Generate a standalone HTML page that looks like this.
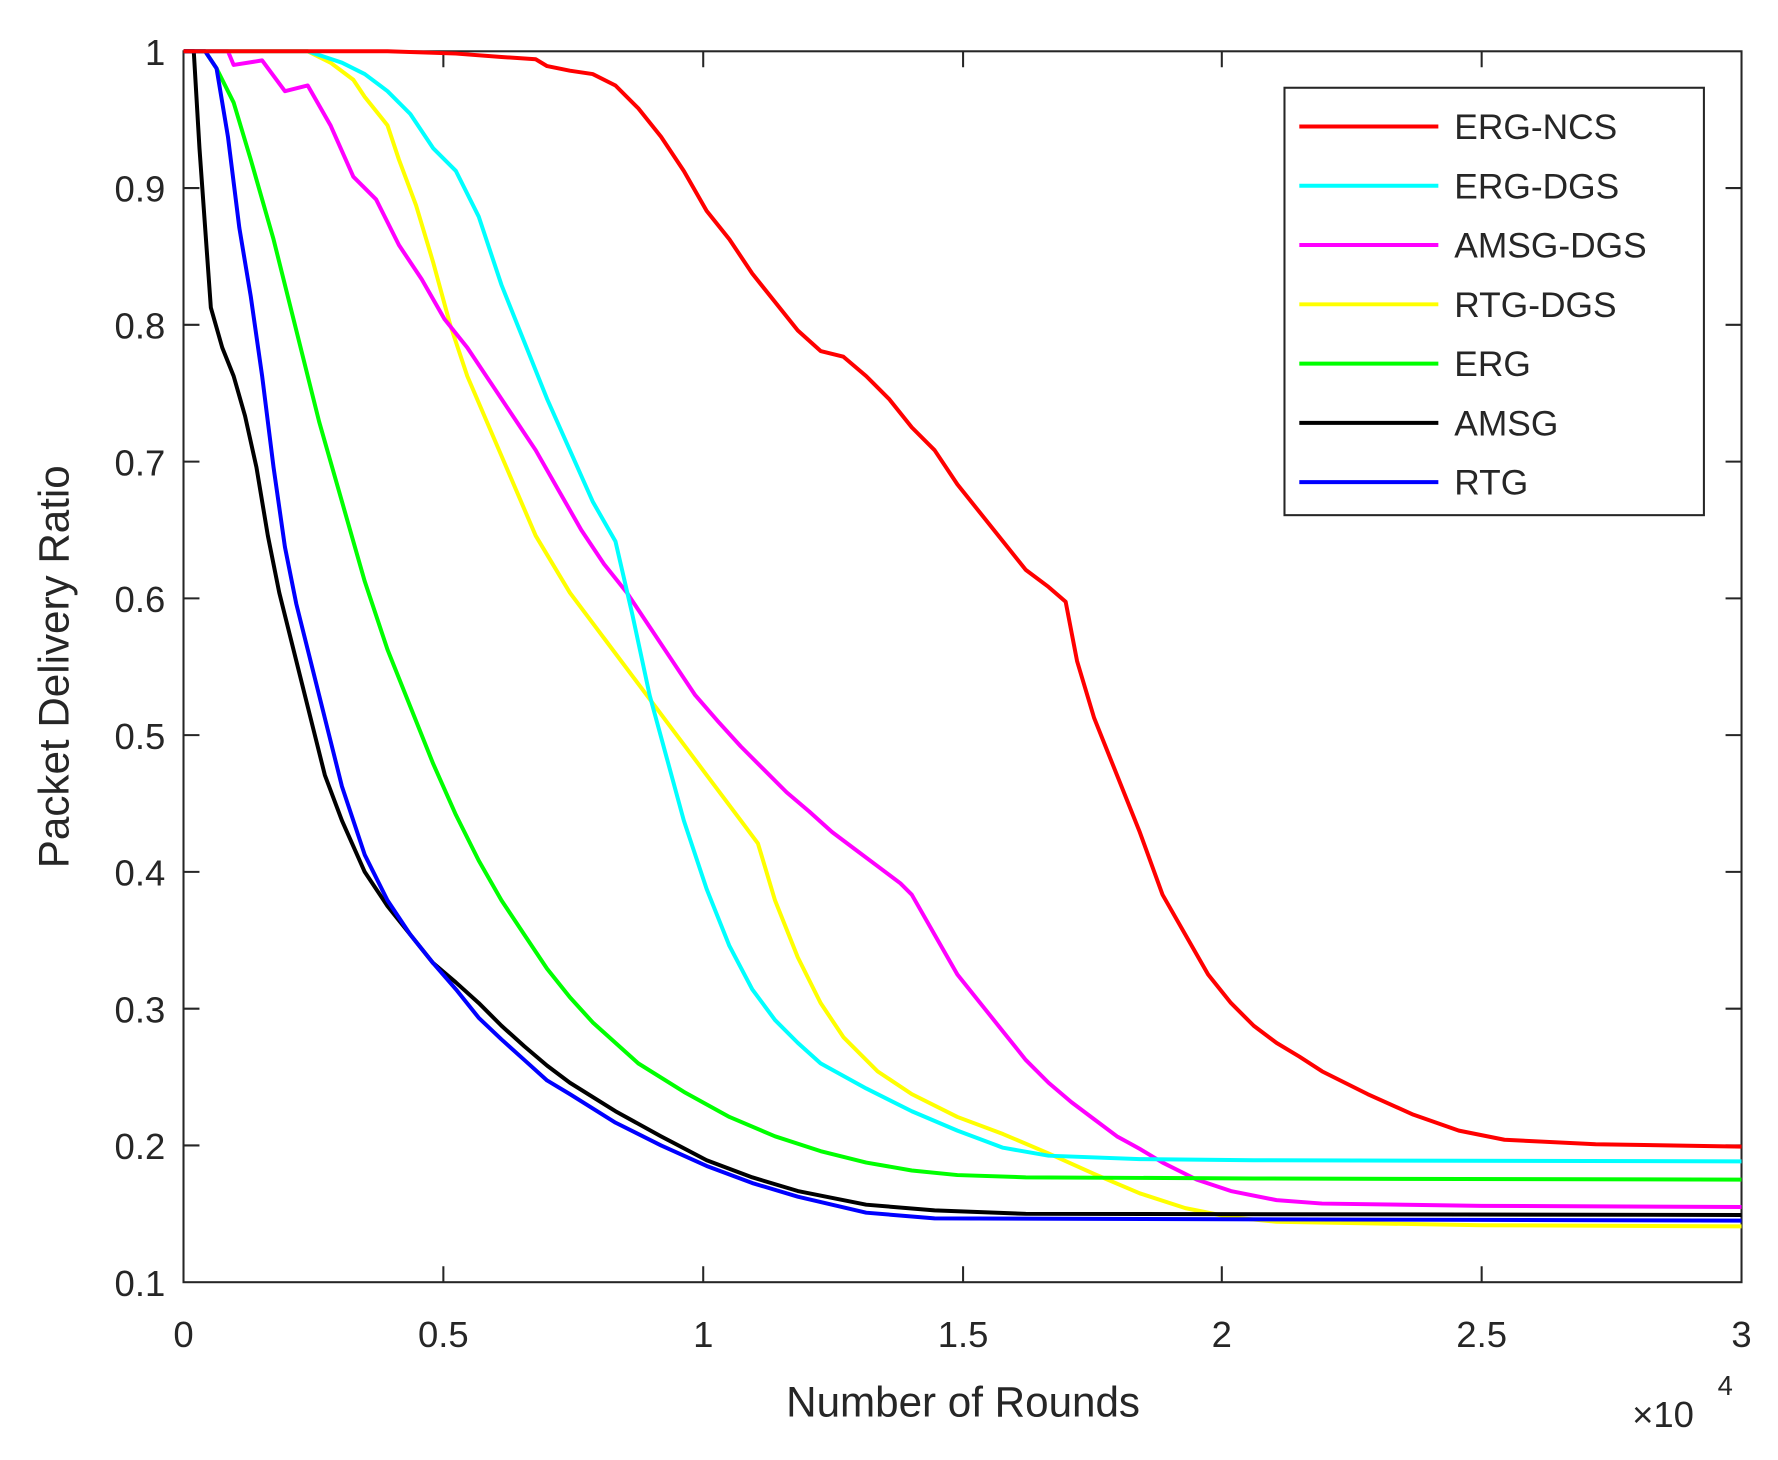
<!DOCTYPE html>
<html><head><style>body{margin:0;background:#fff}svg{display:block}</style></head><body>
<svg width="1778" height="1460" viewBox="0 0 1560 1281" xmlns="http://www.w3.org/2000/svg" font-family="Liberation Sans, Arial, sans-serif" fill="#262626">
<rect width="1560" height="1281" fill="#fff"/>
<g stroke="#262626" stroke-width="1.8" fill="none">
<rect x="161" y="45" width="1367" height="1080"/>
<path d="M161,165h14M161,285h14M161,405h14M161,525h14M161,645h14M161,765h14M161,885h14M161,1005h14M1528,165h-14M1528,285h-14M1528,405h-14M1528,525h-14M1528,645h-14M1528,765h-14M1528,885h-14M1528,1005h-14M389,1125v-14M617,1125v-14M845,1125v-14M1072,1125v-14M1300,1125v-14M389,45v14M617,45v14M845,45v14M1072,45v14M1300,45v14"/>
</g>
<g font-size="32" text-anchor="end">
<text x="145" y="57">1</text><text x="145" y="177">0.9</text><text x="145" y="297">0.8</text><text x="145" y="417">0.7</text><text x="145" y="537">0.6</text><text x="145" y="657">0.5</text><text x="145" y="777">0.4</text><text x="145" y="897">0.3</text><text x="145" y="1017">0.2</text><text x="145" y="1137">0.1</text>
</g>
<g font-size="32" text-anchor="middle">
<text x="161" y="1182">0</text><text x="389" y="1182">0.5</text><text x="617" y="1182">1</text><text x="845" y="1182">1.5</text><text x="1072" y="1182">2</text><text x="1300" y="1182">2.5</text><text x="1528" y="1182">3</text>
<text x="845" y="1243" font-size="37">Number of Rounds</text>
<text transform="translate(60,585) rotate(-90)" font-size="37">Packet Delivery Ratio</text>
</g>
<text x="1432" y="1252" font-size="32">×10</text><text x="1507" y="1224" font-size="24">4</text>
<g fill="none" stroke-width="3.5" stroke-linejoin="round">
<polyline stroke="#ffff00" points="161,45 270,45 290,55 310,70 320,85 340,110 350,140 365,180 380,230 395,285 410,330 440,400 470,470 500,520 530,560 560,600 590,640 620,680 650,720 665,740 680,790 700,840 720,880 740,910 770,940 800,960 840,980 880,995 920,1012 960,1030 1000,1047 1040,1060 1080,1068 1120,1072 1300,1075 1528,1076"/>
<polyline stroke="#ff00ff" points="161,45 200,45 205,57 230,53 250,80 270,75 290,110 310,155 330,175 350,215 370,245 390,280 410,305 430,335 450,365 470,395 490,430 510,465 530,495 550,520 570,550 590,580 610,610 630,633 650,655 670,675 690,695 710,712 730,730 750,745 770,760 790,775 800,785 820,820 840,855 860,880 880,905 900,930 920,950 940,967 960,982 980,997 1000,1008 1020,1020 1050,1035 1080,1045 1120,1053 1160,1056 1300,1058 1528,1059"/>
<polyline stroke="#00ffff" points="161,45 270,45 300,55 320,65 340,80 360,100 380,130 400,150 420,190 440,250 460,300 480,350 500,395 520,440 540,475 555,540 570,610 585,665 600,720 620,780 640,830 660,868 680,895 700,915 720,933 760,955 800,975 840,992 880,1007 920,1014 1000,1017 1100,1018 1528,1019"/>
<polyline stroke="#00ff00" points="161,45 180,45 190,60 205,90 220,140 240,210 260,290 280,370 300,440 320,510 340,570 360,620 380,670 400,715 420,755 440,790 460,820 480,850 500,875 520,897 560,933 600,958 640,980 680,997 720,1010 760,1020 800,1027 840,1031 900,1033 1100,1034 1528,1035"/>
<polyline stroke="#000000" points="161,45 170,45 175,130 185,270 195,305 205,330 215,365 225,410 235,470 245,520 255,560 265,600 275,640 285,680 300,720 320,765 340,795 360,820 380,845 400,862 420,880 440,900 460,918 480,935 500,950 540,975 580,997 620,1018 660,1033 700,1045 760,1057 820,1062 900,1065 1528,1066"/>
<polyline stroke="#0000ff" points="161,45 180,45 190,60 200,120 210,200 220,260 230,330 240,410 250,480 260,530 270,570 280,610 290,650 300,690 320,750 340,790 360,820 380,845 400,868 420,893 440,912 460,930 480,948 500,960 540,985 580,1005 620,1023 660,1038 700,1050 760,1064 820,1069 1528,1071"/>
<polyline stroke="#ff0000" points="161,45 340,45 400,47 440,50 470,52 480,58 500,62 520,65 540,75 560,95 580,120 600,150 620,185 640,210 660,240 680,265 700,290 720,308 740,313 760,330 780,350 800,375 820,395 840,425 860,450 880,475 900,500 920,515 935,528 945,580 960,630 980,680 1000,730 1020,785 1040,820 1060,855 1080,880 1100,900 1120,915 1140,927 1160,940 1200,960 1240,978 1280,992 1320,1000 1400,1004 1528,1006"/>
</g>
<rect x="1127" y="77" width="368" height="375" fill="#fff" stroke="#262626" stroke-width="1.8"/>
<g stroke-width="3.5">
<line x1="1140" x2="1262" y1="111" y2="111" stroke="#ff0000"/>
<line x1="1140" x2="1262" y1="163" y2="163" stroke="#00ffff"/>
<line x1="1140" x2="1262" y1="215" y2="215" stroke="#ff00ff"/>
<line x1="1140" x2="1262" y1="267" y2="267" stroke="#ffff00"/>
<line x1="1140" x2="1262" y1="319" y2="319" stroke="#00ff00"/>
<line x1="1140" x2="1262" y1="371" y2="371" stroke="#000000"/>
<line x1="1140" x2="1262" y1="423" y2="423" stroke="#0000ff"/>
</g>
<g font-size="31">
<text x="1276" y="122">ERG-NCS</text><text x="1276" y="174">ERG-DGS</text><text x="1276" y="226">AMSG-DGS</text><text x="1276" y="278">RTG-DGS</text><text x="1276" y="330">ERG</text><text x="1276" y="382">AMSG</text><text x="1276" y="434">RTG</text>
</g>
</svg>
</body></html>
